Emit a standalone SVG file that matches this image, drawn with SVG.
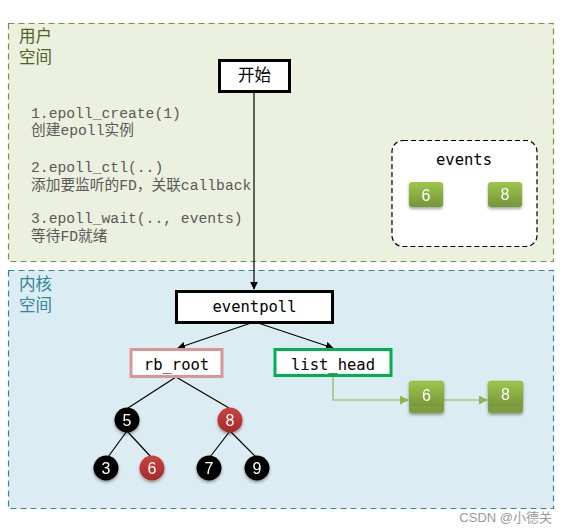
<svg xmlns="http://www.w3.org/2000/svg" width="568" height="532" viewBox="0 0 568 532">
<defs>
<linearGradient id="gGreen" x1="0" y1="0" x2="0" y2="1">
<stop offset="0" stop-color="#9DC74B"/>
<stop offset="1" stop-color="#76953A"/>
</linearGradient>
<linearGradient id="gRed" x1="0" y1="0" x2="0" y2="1">
<stop offset="0" stop-color="#C84440"/>
<stop offset="1" stop-color="#A52A28"/>
</linearGradient>
<filter id="shadow" x="-30%" y="-30%" width="160%" height="170%">
<feDropShadow dx="0" dy="2" stdDeviation="1.5" flood-color="#000" flood-opacity="0.35"/>
</filter>
<marker id="arrBlack" viewBox="0 0 10 10" refX="9" refY="5" markerWidth="8" markerHeight="8" orient="auto" markerUnits="userSpaceOnUse">
<path d="M0,0 L10,5 L0,10 z" fill="#000"/>
</marker>
<marker id="arrGreen" viewBox="0 0 10 10" refX="9" refY="5" markerWidth="9" markerHeight="9" orient="auto" markerUnits="userSpaceOnUse">
<path d="M0,0 L10,5 L0,10 z" fill="#8DB84A"/>
</marker>
</defs>
<style>
.mono{font-family:"DejaVu Sans Mono","Liberation Mono",monospace;}
.cjk{font-family:"Liberation Sans","Noto Sans CJK SC",sans-serif;}
.desc{font-family:"Liberation Mono","Noto Sans CJK SC",monospace;font-size:14.7px;fill:#595959;}
.box{fill:#fff;}
.gtxt{font-family:"Liberation Sans","Noto Sans",sans-serif;font-size:16px;fill:#fff;text-anchor:middle;}
.ctxt{font-family:"Liberation Sans","Noto Sans",sans-serif;font-size:16px;fill:#fff;text-anchor:middle;}
.tline{stroke:#000;stroke-width:1.2;fill:none;}
</style>
<rect width="568" height="532" fill="#fff"/>
<g id="user-space">
<rect x="8.5" y="23.5" width="545" height="238" fill="#EBF0DF" stroke="#77933C" stroke-width="1.2" stroke-dasharray="6,4"/>
<text class="cjk" x="19" y="42" font-size="16.5" fill="#4F6228">用户</text>
<text class="cjk" x="19" y="63" font-size="16.5" fill="#4F6228">空间</text>
<text class="desc" x="31" y="118">1.epoll_create(1)</text>
<text class="desc" x="31" y="135">创建epoll实例</text>
<text class="desc" x="31" y="172">2.epoll_ctl(..)</text>
<text class="desc" x="31" y="190">添加要监听的FD，关联callback</text>
<text class="desc" x="31" y="223">3.epoll_wait(.., events)</text>
<text class="desc" x="31" y="241">等待FD就绪</text>
</g>
<g id="kernel-space">
<rect x="8.5" y="270.5" width="545" height="238" fill="#DBEDF3" stroke="#31859C" stroke-width="1.2" stroke-dasharray="6,4"/>
<text class="cjk" x="19" y="290" font-size="16.5" fill="#31859C">内核</text>
<text class="cjk" x="19" y="311" font-size="16.5" fill="#31859C">空间</text>
</g>
<g id="connectors">
<line x1="254" y1="92" x2="254" y2="289" stroke="#000" stroke-width="1.2" marker-end="url(#arrBlack)"/>
<line x1="251" y1="323" x2="178" y2="348" stroke="#000" stroke-width="1.2" marker-end="url(#arrBlack)"/>
<line x1="258" y1="323" x2="333" y2="348" stroke="#000" stroke-width="1.2" marker-end="url(#arrBlack)"/>
<line class="tline" x1="176" y1="377" x2="128" y2="408"/>
<line class="tline" x1="176" y1="377" x2="229" y2="408"/>
<line class="tline" x1="127" y1="431" x2="108" y2="457"/>
<line class="tline" x1="127" y1="431" x2="151" y2="457"/>
<line class="tline" x1="230" y1="431" x2="210" y2="457"/>
<line class="tline" x1="230" y1="431" x2="256" y2="457"/>
<polyline points="333,376 333,400 408,400" fill="none" stroke="#8DB84A" stroke-width="1.2" marker-end="url(#arrGreen)"/>
<line x1="444" y1="400" x2="487" y2="400" stroke="#A9CA73" stroke-width="1.5" marker-end="url(#arrGreen)"/>
</g>
<g id="start">
<rect x="219.5" y="60.5" width="70" height="31" class="box" stroke="#000" stroke-width="3"/>
<text class="cjk" x="254.5" y="81" font-size="16.5" text-anchor="middle" fill="#000">开始</text>
</g>
<g id="events-box">
<rect x="392" y="140.5" width="145" height="106" rx="11" fill="#fff" stroke="#000" stroke-width="1.2" stroke-dasharray="5,3"/>
<text class="mono" x="464" y="165" font-size="15.5" text-anchor="middle" fill="#000">events</text>
</g>
<g id="ev6" filter="url(#shadow)">
<rect x="409" y="182" width="34" height="25" rx="3" fill="url(#gGreen)"/>
<text class="gtxt" x="426" y="200.5">6</text>
</g>
<g id="ev8" filter="url(#shadow)">
<rect x="488" y="182" width="34" height="25" rx="3" fill="url(#gGreen)"/>
<text class="gtxt" x="505" y="199.5">8</text>
</g>
<g id="eventpoll">
<rect x="176.5" y="291.5" width="156" height="31" class="box" stroke="#000" stroke-width="3"/>
<text class="mono" x="254.5" y="312" font-size="15.5" text-anchor="middle" fill="#000">eventpoll</text>
</g>
<g id="rb_root">
<rect x="131" y="349.5" width="91" height="27" class="box" stroke="#D99694" stroke-width="3"/>
<text class="mono" x="176.5" y="370" font-size="15.5" text-anchor="middle" fill="#000">rb_root</text>
</g>
<g id="list_head">
<rect x="275" y="349.5" width="116" height="26" class="box" stroke="#00B050" stroke-width="3"/>
<text class="mono" x="333" y="370" font-size="15.5" text-anchor="middle" fill="#000">list_head</text>
</g>
<g id="l6" filter="url(#shadow)">
<rect x="409" y="388" width="35" height="25" rx="3" fill="#7E9E3E"/>
<rect x="409" y="381" width="35" height="26" rx="3" fill="url(#gGreen)" stroke="#8AAE4A" stroke-width="0.5"/>
<text class="gtxt" x="426.5" y="400.5">6</text>
</g>
<g id="l8" filter="url(#shadow)">
<rect x="488" y="388" width="35" height="25" rx="3" fill="#7E9E3E"/>
<rect x="488" y="381" width="35" height="26" rx="3" fill="url(#gGreen)" stroke="#8AAE4A" stroke-width="0.5"/>
<text class="gtxt" x="505.5" y="399.5">8</text>
</g>
<g id="n5" filter="url(#shadow)">
<circle cx="127" cy="420" r="12.5" fill="#000"/>
<text class="ctxt" x="127" y="426">5</text>
</g>
<g id="n8" filter="url(#shadow)">
<circle cx="230" cy="420" r="12.5" fill="url(#gRed)"/>
<text class="ctxt" x="230" y="426">8</text>
</g>
<g id="n3" filter="url(#shadow)">
<circle cx="106" cy="468" r="12.5" fill="#000"/>
<text class="ctxt" x="106" y="474">3</text>
</g>
<g id="n6" filter="url(#shadow)">
<circle cx="152" cy="468" r="12.5" fill="url(#gRed)"/>
<text class="ctxt" x="152" y="474">6</text>
</g>
<g id="n7" filter="url(#shadow)">
<circle cx="209" cy="468" r="12.5" fill="#000"/>
<text class="ctxt" x="209" y="474">7</text>
</g>
<g id="n9" filter="url(#shadow)">
<circle cx="257" cy="468" r="12.5" fill="#000"/>
<text class="ctxt" x="257" y="474">9</text>
</g>
<text x="552" y="522" font-family="Liberation Sans, Noto Sans CJK SC, sans-serif" font-size="13" fill="#9A9A9A" text-anchor="end">CSDN @小德关</text>
</svg>
